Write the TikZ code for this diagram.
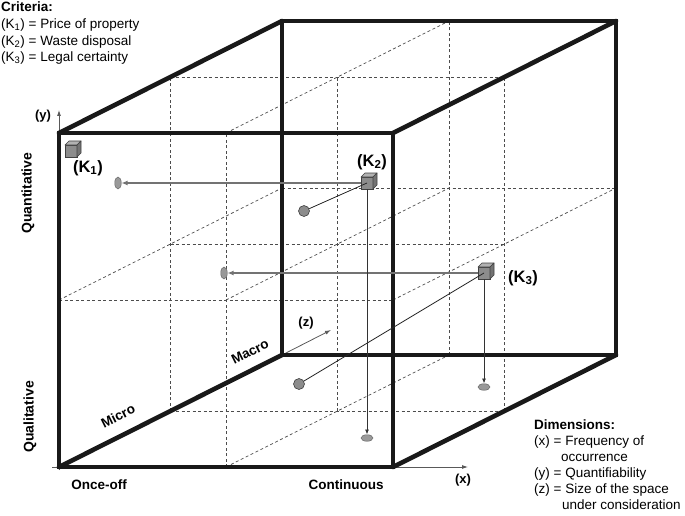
\documentclass[tikz,border=0pt]{standalone}
\usepackage{fontspec}
\setmainfont{Liberation Sans}
\usetikzlibrary{arrows.meta,shapes.geometric}
\begin{document}
\begin{tikzpicture}[x=1pt,y=-1pt,
  edge/.style={line width=4.6pt, black!90, line cap=round, line join=miter},
  grid/.style={dash pattern=on 3pt off 2.5pt, line width=0.7pt, black!70},
  axis/.style={line width=0.8pt, black!65, -{Latex[length=6pt,width=4pt]}},
  harrow/.style={line width=1.6pt, black!55, -{Latex[length=6pt,width=5pt]}},
  varrow/.style={line width=0.8pt, black!80, -{Latex[length=5pt,width=4pt]}},
  dline/.style={line width=0.8pt, black!85},
  kcube/.style={draw=black!75, fill=black!45, line width=0.6pt, minimum size=12pt, inner sep=0pt, outer sep=0pt},
  hoval/.style={ellipse, draw=black!60, fill=black!40, line width=0.5pt, minimum width=6.5pt, minimum height=12pt, inner sep=0pt},
  voval/.style={ellipse, draw=black!60, fill=black!40, line width=0.5pt, minimum width=12pt, minimum height=6.5pt, inner sep=0pt},
  sphere/.style={circle, draw=black!75, fill=black!45, line width=0.6pt, minimum size=11pt, inner sep=0pt},
  lab/.style={font=\fontsize{13.5}{16}\selectfont\bfseries, inner sep=0pt},
  klab/.style={font=\fontsize{16.5}{19}\selectfont\bfseries, inner sep=0pt},
  legend/.style={font=\fontsize{13.5}{16.6}\selectfont, align=left, inner sep=0pt, anchor=north west}
]
\useasboundingbox (0,0) rectangle (685,516);

% cube corners
\coordinate (FTL) at (59,133);  \coordinate (FTR) at (393,133);
\coordinate (FBL) at (59,467);  \coordinate (FBR) at (393,467);
\coordinate (BTL) at (282,21);  \coordinate (BTR) at (616,21);
\coordinate (BBL) at (282,355); \coordinate (BBR) at (616,355);

% dashed mid planes
\draw[grid] (226,467) -- (449,355);
\draw[grid] (226,133) -- (449,21);
\draw[grid] (226,467) -- (226,133);
\draw[grid] (449,355) -- (449,21);
\draw[grid] (226,300) -- (449,188);
\draw[grid] (337.5,411) -- (337.5,77);
\draw[grid] (59,300) -- (282,188);
\draw[grid] (393,300) -- (616,188);
\draw[grid] (59,300) -- (393,300);
\draw[grid] (282,188) -- (616,188);
\draw[grid] (170.5,244) -- (504.5,244);
\draw[grid] (170.5,411) -- (504.5,411);
\draw[grid] (170.5,77) -- (504.5,77);
\draw[grid] (170.5,411) -- (170.5,77);
\draw[grid] (504.5,411) -- (504.5,77);

% axes
\coordinate (ys) at (59,470); \coordinate (ye) at (59,110);
\coordinate (xs) at (52,467); \coordinate (xe) at (468,467);
\coordinate (ze) at (331,330);
\draw[axis] (ys) -- (ye);
\draw[axis] (xs) -- (xe);
\draw[axis] (BBL) -- (ze);

% thick cube edges
\draw[edge] (FTL) -- (FTR) -- (FBR) -- (FBL) -- cycle;
\draw[edge] (BTL) -- (BTR) -- (BBR) -- (BBL) -- cycle;
\draw[edge] (FTL) -- (BTL);
\draw[edge] (FTR) -- (BTR);
\draw[edge] (FBR) -- (BBR);
\draw[edge] (FBL) -- (BBL);

% criteria cubes
\node[kcube] (k1) at (71,151) {};
\node[kcube] (k2) at (367,183) {};
\node[kcube] (k3) at (484,273) {};
\foreach \k in {k1,k2,k3}{
  \filldraw[draw=black!75, fill=black!30, line width=0.6pt, line join=round]
    (\k.north west) -- ++(4,-4) -- ++(12,0) -- (\k.north east) -- cycle;
  \filldraw[draw=black!75, fill=black!55, line width=0.6pt, line join=round]
    (\k.north east) -- ++(4,-4) -- ++(0,12) -- (\k.south east) -- cycle;
}

% projections
\node[hoval] (p2x) at (118,183) {};
\node[sphere] (p2z) at (304,211) {};
\node[voval] (p2y) at (367,438) {};
\node[hoval] (p3x) at (224,273) {};
\node[sphere] (p3z) at (299,384) {};
\node[voval] (p3y) at (484,387) {};

\draw[harrow] (k2.west) -- (p2x.east);
\draw[harrow] (k3.west) -- (p3x.east);
\draw[dline] (k2.center) -- (p2z);
\draw[dline] (k3.center) -- (p3z);
\draw[varrow] (k2.south) -- (p2y.north);
\draw[varrow] (k3.south) -- (p3y.north);

% criteria labels
\node[klab] (k1l) at (88,168) {(K\textsubscript{1})};
\node[klab] (k2l) at (372,162) {(K\textsubscript{2})};
\node[klab] (k3l) at (523,278) {(K\textsubscript{3})};

% axis labels
\node[lab, font=\fontsize{13}{15}\selectfont\bfseries] (yl) at (43,116) {(y)};
\node[lab, font=\fontsize{13}{15}\selectfont\bfseries] (xl) at (463,480) {(x)};
\node[lab, font=\fontsize{13}{15}\selectfont\bfseries] (zl) at (306,323) {(z)};
\node[lab, rotate=90, font=\fontsize{14}{16}\selectfont\bfseries] (quant) at (28,193) {Quantitative};
\node[lab, rotate=90, font=\fontsize{14}{16}\selectfont\bfseries] (qual) at (30,417) {Qualitative};
\node[lab] (once) at (99,485) {Once-off};
\node[lab] (cont) at (346,485) {Continuous};
\node[lab, rotate=26.6] (micro) at (118,416) {Micro};
\node[lab, rotate=26.6] (macro) at (250,352) {Macro};

% legends
\node[legend] (crit) at (1,2) {\textbf{Criteria:}\\(K\textsubscript{1}) = Price of property\\(K\textsubscript{2}) = Waste disposal\\(K\textsubscript{3}) = Legal certainty};
\node[legend, font=\fontsize{13.5}{16}\selectfont] (dims) at (534,420) {\textbf{Dimensions:}\\(x) = Frequency of\\\hspace*{27pt}occurrence\\(y) = Quantifiability\\(z) = Size of the space\\\hspace*{28pt}under consideration};
\end{tikzpicture}
\end{document}
